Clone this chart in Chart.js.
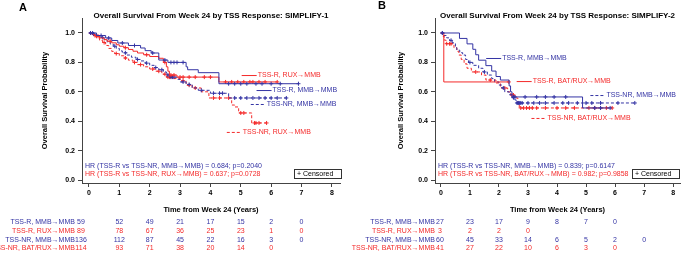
<!DOCTYPE html>
<html>
<head>
<meta charset="utf-8">
<script src="https://cdn.jsdelivr.net/npm/chart.js@4.4.1/dist/chart.umd.min.js"></script>
<style>
  html, body { margin: 0; padding: 0; background: #fff; }
  #wrap { position: relative; width: 685px; height: 254px; overflow: hidden; }
  #chartA { position: absolute; left: 0; top: 0; }
  #chartB { position: absolute; left: 345px; top: 0; }
</style>
</head>
<body>
<div id="wrap">
  <canvas id="chartA" width="345" height="254"></canvas>
  <canvas id="chartB" width="340" height="254"></canvas>
</div>
<script>
Chart.defaults.font.family = "'Liberation Sans', Arial, sans-serif"
Chart.defaults.color = '#000'

const BLUE = '#3434a4'
const RED = '#f42a2a'

const xTicks = [0, 1, 2, 3, 4, 5, 6, 7, 8]
const yTicks = [0, 0.2, 0.4, 0.6, 0.8, 1.0]
const riskTimes = [0, 1, 2, 3, 4, 5, 6, 7]

// SIMPLIFY-1: KM drops as [years, survival], last follow-up time, censored times
const s1RespMmbSteps = [[0.25, 0.983], [0.55, 0.966], [0.75, 0.949], [0.95, 0.932], [1.3, 0.915], [1.7, 0.898], [1.85, 0.88], [2.05, 0.864], [2.3, 0.816], [2.6, 0.8], [3.2, 0.77], [3.25, 0.75], [3.6, 0.73], [4.28, 0.655]]
const s1RespMmbEnd = 6.9
const s1RespMmbCensored = [0.05, 0.12, 0.4, 0.65, 1.1, 1.5, 2.1, 2.5, 2.7, 2.8, 2.9, 3.1, 4.6, 4.8, 5.0, 5.2, 5.5, 5.7, 6.0, 6.3, 6.9]

const s1RespRuxSteps = [[0.1, 0.989], [0.2, 0.978], [0.35, 0.966], [0.5, 0.955], [0.6, 0.944], [0.75, 0.933], [0.9, 0.92], [1.0, 0.91], [1.15, 0.9], [1.3, 0.888], [1.45, 0.876], [1.6, 0.864], [1.8, 0.852], [2.0, 0.84], [2.3, 0.828], [2.45, 0.8], [2.55, 0.77], [2.6, 0.74], [2.65, 0.714], [2.9, 0.7], [4.28, 0.667]]
const s1RespRuxEnd = 6.2
const s1RespRuxCensored = [0.3, 0.7, 1.2, 1.9, 2.5, 2.7, 2.8, 3.0, 3.1, 3.3, 3.5, 3.8, 4.0, 4.5, 4.7, 4.9, 5.1, 5.3, 5.4, 5.6, 5.8, 6.2]

const s1NonRespMmbSteps = [[0.1, 0.993], [0.2, 0.985], [0.3, 0.978], [0.4, 0.97], [0.5, 0.955], [0.6, 0.94], [0.7, 0.925], [0.8, 0.91], [0.9, 0.895], [1.0, 0.878], [1.1, 0.865], [1.25, 0.85], [1.4, 0.835], [1.55, 0.82], [1.7, 0.81], [1.85, 0.795], [2.0, 0.78], [2.15, 0.765], [2.3, 0.75], [2.45, 0.735], [2.55, 0.715], [2.65, 0.7], [2.9, 0.685], [3.0, 0.667], [3.2, 0.65], [3.4, 0.626], [3.6, 0.61], [4.0, 0.59], [4.6, 0.558]]
const s1NonRespMmbEnd = 6.55
const s1NonRespMmbCensored = [0.15, 0.45, 0.85, 1.2, 1.6, 1.9, 2.2, 2.4, 2.6, 2.7, 2.75, 2.8, 3.1, 3.3, 3.7, 4.1, 4.3, 4.4, 4.8, 5.0, 5.2, 5.4, 5.6, 5.8, 6.0, 6.2, 6.5]

const s1NonRespRuxSteps = [[0.05, 0.991], [0.15, 0.982], [0.25, 0.965], [0.35, 0.95], [0.45, 0.935], [0.55, 0.915], [0.65, 0.895], [0.75, 0.875], [0.85, 0.86], [1.0, 0.845], [1.15, 0.83], [1.3, 0.815], [1.45, 0.8], [1.6, 0.785], [1.8, 0.77], [2.0, 0.755], [2.2, 0.74], [2.4, 0.72], [2.55, 0.7], [2.75, 0.69], [3.0, 0.675], [3.2, 0.645], [3.4, 0.626], [3.7, 0.6], [3.95, 0.558], [4.7, 0.51], [4.8, 0.497], [4.93, 0.456], [5.36, 0.388]]
const s1NonRespRuxEnd = 5.85
const s1NonRespRuxCensored = [0.2, 0.5, 0.9, 1.2, 1.5, 1.7, 2.1, 2.3, 2.5, 2.6, 2.65, 2.7, 3.1, 3.3, 3.5, 4.1, 4.3, 4.6, 5.0, 5.1, 5.45, 5.5, 5.6, 5.85]

// SIMPLIFY-2
const s2RespMmbSteps = [[0.64, 0.963], [0.9, 0.926], [1.1, 0.889], [1.2, 0.852], [1.3, 0.815], [1.55, 0.778], [1.75, 0.741], [1.9, 0.704], [2.05, 0.68], [2.35, 0.64], [2.4, 0.6], [2.45, 0.565], [4.88, 0.49]]
const s2RespMmbEnd = 5.83
const s2RespMmbCensored = [0.05, 2.5, 2.55, 2.9, 3.3, 3.6, 3.9, 4.3, 5.3, 5.5, 5.83]

const s2RespBatRuxSteps = [[0.1, 0.667]]
const s2RespBatRuxEnd = 2.34
const s2RespBatRuxCensored = [2.34]

const s2NonRespMmbSteps = [[0.1, 0.983], [0.2, 0.967], [0.3, 0.95], [0.4, 0.933], [0.5, 0.9], [0.55, 0.883], [0.65, 0.866], [0.75, 0.85], [0.85, 0.82], [0.95, 0.8], [1.1, 0.78], [1.3, 0.76], [1.45, 0.735], [1.6, 0.714], [1.75, 0.69], [1.85, 0.667], [2.0, 0.646], [2.1, 0.626], [2.2, 0.6], [2.35, 0.58], [2.45, 0.56], [2.55, 0.544], [2.6, 0.524]]
const s2NonRespMmbEnd = 6.68
const s2NonRespMmbCensored = [0.05, 0.35, 1.0, 1.5, 2.15, 2.5, 2.62, 2.65, 2.68, 2.7, 2.75, 2.8, 3.0, 3.2, 3.4, 3.6, 3.9, 4.2, 4.4, 4.7, 5.0, 5.2, 5.5, 6.1, 6.68]

const s2NonRespBatRuxSteps = [[0.08, 0.976], [0.12, 0.951], [0.18, 0.927], [0.45, 0.9], [0.55, 0.875], [0.62, 0.85], [0.7, 0.82], [0.8, 0.79], [0.9, 0.76], [1.05, 0.735], [1.4, 0.714], [1.55, 0.68], [1.9, 0.66], [2.05, 0.626], [2.3, 0.6], [2.4, 0.578], [2.55, 0.558], [2.65, 0.52], [2.7, 0.49]]
const s2NonRespBatRuxEnd = 5.9
const s2NonRespBatRuxCensored = [0.2, 0.3, 0.35, 1.2, 1.7, 2.2, 2.45, 2.5, 2.75, 2.85, 2.95, 3.05, 3.15, 3.3, 3.6, 4.0, 4.3, 4.6, 5.1, 5.3, 5.5, 5.7, 5.9]

// curve names
const s1CurveNames = ['TSS-R, RUX→MMB', 'TSS-R, MMB→MMB', 'TSS-NR, MMB→MMB', 'TSS-NR, RUX→MMB']
const s2CurveNames = ['TSS-R, MMB→MMB', 'TSS-R, BAT/RUX→MMB', 'TSS-NR, MMB→MMB', 'TSS-NR, BAT/RUX→MMB']

// hazard ratio notes
const s1HrText = ['HR (TSS-R vs TSS-NR, MMB→MMB) = 0.684; p=0.2040', 'HR (TSS-R vs TSS-NR, RUX→MMB) = 0.637; p=0.0728']
const s2HrText = ['HR (TSS-R vs TSS-NR, MMB→MMB) = 0.839; p=0.6147', 'HR (TSS-R vs TSS-NR, BAT/RUX→MMB) = 0.982; p=0.9858']

// numbers at risk
const s1RiskLabels = ['TSS-R, MMB→MMB', 'TSS-R, RUX→MMB', 'TSS-NR, MMB→MMB', 'TSS-NR, BAT/RUX→MMB']
const s1RiskRespMmb = [59, 52, 49, 21, 17, 15, 2, 0]
const s1RiskRespRux = [89, 78, 67, 36, 25, 23, 1, 0]
const s1RiskNonRespMmb = [136, 112, 87, 45, 22, 16, 3, 0]
const s1RiskNonRespRux = [114, 93, 71, 38, 20, 14, 0]

const s2RiskLabels = ['TSS-R, MMB→MMB', 'TSS-R, RUX→MMB', 'TSS-NR, MMB→MMB', 'TSS-NR, BAT/RUX→MMB']
const s2RiskRespMmb = [27, 23, 17, 9, 8, 7, 0]
const s2RiskRespBatRux = [3, 2, 2, 0]
const s2RiskNonRespMmb = [60, 45, 33, 14, 6, 5, 2, 0]
const s2RiskNonRespBatRux = [41, 27, 22, 10, 6, 3, 0]

function stepLine(steps, end) {
    const pts = [{ x: 0, y: 1 }]
    steps.forEach(([t, s]) => pts.push({ x: t, y: s }))
    pts.push({ x: end, y: steps[steps.length - 1][1] })
    return pts
}

function survivalAt(steps, t) {
    let s = 1
    steps.forEach(([ts, v]) => { if (ts <= t) s = v })
    return s
}

function curveDatasets(curves) {
    const sets = []
    curves.forEach(c => {
        sets.push({
            data: stepLine(c.steps, c.end),
            borderColor: c.color,
            borderWidth: 1,
            borderDash: c.dashed ? [3, 2] : [],
            stepped: true,
            pointRadius: 0,
            fill: false
        })
        // censored marks
        sets.push({
            data: c.censored.map(t => ({ x: t, y: survivalAt(c.steps, t) })),
            showLine: false,
            pointStyle: 'cross',
            pointRadius: 2,
            pointBorderWidth: 1,
            borderColor: c.color,
            backgroundColor: c.color
        })
    })
    return sets
}

const kmExtras = {
    id: 'kmExtras',
    afterDraw(chart, args, opts) {
        const ctx = chart.ctx
        const xs = chart.scales.x
        const ys = chart.scales.y
        const area = chart.chartArea
        const font = "'Liberation Sans', Arial, sans-serif"
        ctx.save()

        // panel letter
        ctx.fillStyle = '#000'
        ctx.font = 'bold 11px ' + font
        ctx.textAlign = 'left'
        ctx.textBaseline = 'middle'
        ctx.fillText(opts.letter, opts.letterX, opts.letterY)

        // curve labels with line sample
        ctx.font = '7px ' + font
        opts.labels.forEach(l => {
            const px = xs.getPixelForValue(l.t)
            const py = ys.getPixelForValue(l.s)
            ctx.strokeStyle = l.color
            ctx.lineWidth = 1
            ctx.setLineDash(l.dashed ? [3, 2] : [])
            ctx.beginPath()
            ctx.moveTo(px, py + 0.5)
            ctx.lineTo(px + 15, py + 0.5)
            ctx.stroke()
            ctx.fillStyle = l.color
            ctx.fillText(l.text, px + 16, py)
        })
        ctx.setLineDash([])

        // hazard ratios
        opts.hr.forEach((h, i) => {
            ctx.fillStyle = i === 0 ? BLUE : RED
            ctx.fillText(h, area.left + 3, area.bottom - 17 + i * 8.5)
        })

        // censored legend box
        const bw = 47
        const bx = area.right + opts.boxShift - bw
        const by = area.bottom - 14
        ctx.strokeStyle = '#333'
        ctx.strokeRect(bx + 0.5, by + 0.5, bw, 9)
        ctx.fillStyle = '#000'
        ctx.fillText('+ Censored', bx + 3, by + 5)

        // number at risk table
        const x0 = xs.getPixelForValue(0)
        opts.risk.forEach((row, i) => {
            const ry = opts.riskTop + i * 8.8
            ctx.fillStyle = row.color
            ctx.textAlign = 'right'
            ctx.fillText(row.label, x0 + opts.labelShift, ry)
            ctx.textAlign = 'center'
            row.values.forEach((v, j) => {
                const px = j === 0 ? x0 + opts.firstShift : xs.getPixelForValue(riskTimes[j])
                ctx.fillText(String(v), px, ry)
            })
        })
        ctx.restore()
    }
}

function buildPanel(canvasId, cfg) {
    return new Chart(document.getElementById(canvasId), {
        type: 'line',
        data: { datasets: curveDatasets(cfg.curves) },
        options: {
            responsive: false,
            animation: false,
            layout: { padding: { left: cfg.padLeft, right: cfg.padRight, top: 0, bottom: 39 } },
            plugins: {
                legend: { display: false },
                tooltip: { enabled: false },
                title: {
                    display: true,
                    text: cfg.title,
                    fullSize: false,
                    color: '#000',
                    font: { size: 8, weight: 'bold' },
                    padding: { top: 11, bottom: -2.6 }
                },
                kmExtras: cfg.extras
            },
            scales: {
                x: {
                    type: 'linear',
                    min: cfg.xMin,
                    max: cfg.xMax,
                    afterBuildTicks: s => { s.ticks = xTicks.map(v => ({ value: v })) },
                    afterFit: s => { s.height = 32 },
                    ticks: { autoSkip: false, maxRotation: 0, padding: 2, font: { size: 7, weight: 'bold' }, callback: v => String(v) },
                    grid: { drawOnChartArea: false, drawTicks: true, tickLength: 4, color: '#444' },
                    border: { color: '#444' },
                    title: { display: true, text: 'Time from Week 24 (Years)', font: { size: 7.5, weight: 'bold' }, padding: { top: 0, bottom: 1 } }
                },
                y: {
                    type: 'linear',
                    min: -0.0204,
                    max: 1.102,
                    afterBuildTicks: s => { s.ticks = yTicks.map(v => ({ value: v })) },
                    afterFit: s => { s.width = 44 },
                    ticks: { padding: 3, font: { size: 7, weight: 'bold' }, callback: v => v.toFixed(1) },
                    grid: { drawOnChartArea: false, drawTicks: true, tickLength: 4, color: '#444' },
                    border: { color: '#444' },
                    title: { display: true, text: 'Overall Survival Probability', font: { size: 7.5, weight: 'bold' }, padding: { top: cfg.yTitlePad, bottom: 0 } }
                }
            }
        },
        plugins: [kmExtras]
    })
}

buildPanel('chartA', {
    title: 'Overall Survival From Week 24 by TSS Response: SIMPLIFY-1',
    padLeft: 38, padRight: 3, xMin: -0.229, xMax: 8.268, yTitlePad: 2.5,
    curves: [
        { steps: s1RespMmbSteps, end: s1RespMmbEnd, censored: s1RespMmbCensored, color: BLUE, dashed: false },
        { steps: s1RespRuxSteps, end: s1RespRuxEnd, censored: s1RespRuxCensored, color: RED, dashed: false },
        { steps: s1NonRespMmbSteps, end: s1NonRespMmbEnd, censored: s1NonRespMmbCensored, color: BLUE, dashed: true },
        { steps: s1NonRespRuxSteps, end: s1NonRespRuxEnd, censored: s1NonRespRuxCensored, color: RED, dashed: true }
    ],
    extras: {
        letter: 'A', letterX: 19, letterY: 8,
        labels: [
            { text: s1CurveNames[0], t: 5.03, s: 0.714, color: RED, dashed: false },
            { text: s1CurveNames[1], t: 5.52, s: 0.612, color: BLUE, dashed: false },
            { text: s1CurveNames[2], t: 5.33, s: 0.517, color: BLUE, dashed: true },
            { text: s1CurveNames[3], t: 4.54, s: 0.327, color: RED, dashed: true }
        ],
        hr: s1HrText,
        boxShift: 1,
        riskTop: 222, labelShift: -14, firstShift: -8,
        risk: [
            { label: s1RiskLabels[0], values: s1RiskRespMmb, color: BLUE },
            { label: s1RiskLabels[1], values: s1RiskRespRux, color: RED },
            { label: s1RiskLabels[2], values: s1RiskNonRespMmb, color: BLUE },
            { label: s1RiskLabels[3], values: s1RiskNonRespRux, color: RED }
        ]
    }
})

buildPanel('chartB', {
    title: 'Overall Survival From Week 24 by TSS Response: SIMPLIFY-2',
    padLeft: 46, padRight: 1, xMin: -0.203, xMax: 8.237, yTitlePad: 5.5,
    curves: [
        { steps: s2RespMmbSteps, end: s2RespMmbEnd, censored: s2RespMmbCensored, color: BLUE, dashed: false },
        { steps: s2RespBatRuxSteps, end: s2RespBatRuxEnd, censored: s2RespBatRuxCensored, color: RED, dashed: false },
        { steps: s2NonRespMmbSteps, end: s2NonRespMmbEnd, censored: s2NonRespMmbCensored, color: BLUE, dashed: true },
        { steps: s2NonRespBatRuxSteps, end: s2NonRespBatRuxEnd, censored: s2NonRespBatRuxCensored, color: RED, dashed: true }
    ],
    extras: {
        letter: 'B', letterX: 33, letterY: 6,
        labels: [
            { text: s2CurveNames[0], t: 1.56, s: 0.83, color: BLUE, dashed: false },
            { text: s2CurveNames[1], t: 2.61, s: 0.673, color: RED, dashed: false },
            { text: s2CurveNames[2], t: 5.15, s: 0.578, color: BLUE, dashed: true },
            { text: s2CurveNames[3], t: 3.12, s: 0.422, color: RED, dashed: true }
        ],
        hr: s2HrText,
        boxShift: -1,
        riskTop: 222, labelShift: -6, firstShift: -1,
        risk: [
            { label: s2RiskLabels[0], values: s2RiskRespMmb, color: BLUE },
            { label: s2RiskLabels[1], values: s2RiskRespBatRux, color: RED },
            { label: s2RiskLabels[2], values: s2RiskNonRespMmb, color: BLUE },
            { label: s2RiskLabels[3], values: s2RiskNonRespBatRux, color: RED }
        ]
    }
})
</script>
</body>
</html>
